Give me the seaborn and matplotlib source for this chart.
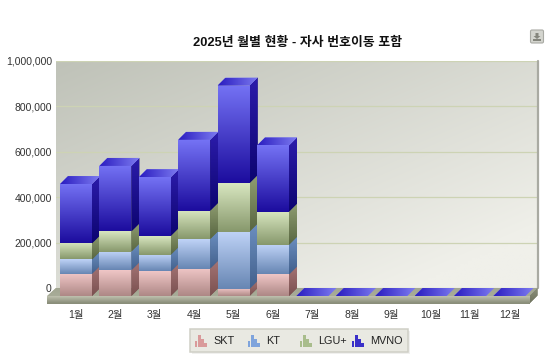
import numpy as np
import pandas as pd
import matplotlib
matplotlib.use("Agg")
import matplotlib.pyplot as plt
from matplotlib.patches import Polygon, Rectangle, FancyBboxPatch
from matplotlib.legend_handler import HandlerBase
from matplotlib.lines import Line2D
from matplotlib.transforms import Affine2D
import seaborn as sns

months = ["1월", "2월", "3월", "4월", "5월", "6월", "7월", "8월", "9월", "10월", "11월", "12월"]
skt = [98000, 114000, 108000, 121000, 32000, 95000, 0, 0, 0, 0, 0, 0]
kt = [63000, 82000, 74000, 130000, 252000, 131000, 0, 0, 0, 0, 0, 0]
lgu = [71000, 89000, 83000, 125000, 214000, 146000, 0, 0, 0, 0, 0, 0]
mvno = [261000, 288000, 258000, 312000, 429000, 291000, 0, 0, 0, 0, 0, 0]
series_names = ["SKT", "KT", "LGU+", "MVNO"]
series_values = [skt, kt, lgu, mvno]
y_ticks = [0, 200000, 400000, 600000, 800000, 1000000]
title = "2025년 월별 현황 - 자사 번호이동 포함"

front_cols = [("#efc6c6", "#ae8886"), ("#bfd3f7", "#6786b3"), ("#d8e6c0", "#87986c"), ("#7472f4", "#1c0c9e")]
side_cols = [("#a47474", "#7a5050"), ("#6c8fc0", "#42608c"), ("#8f9d72", "#586640"), ("#2c1cab", "#0c0470")]
top_cols = [("#b08a88", "#efc6c6"), ("#6786b3", "#bfd3f7"), ("#87986c", "#d8e6c0"), ("#2a1cc0", "#7c7af0")]

sns.set_theme(style="white")
plt.rcParams["font.family"] = ["Liberation Sans", "Noto Sans CJK KR", "DejaVu Sans"]

W, H = 548, 356
fig = plt.figure(figsize=(W / 100, H / 100), dpi=100, facecolor="white")
L, R, T, B = 56, 537.5, 61, 288
ax = fig.add_axes([L / W, 1 - B / H, (R - L) / W, (B - T) / H])

x_step = 39.4
depth = 8.0
first_back = 84.0
bar_w = 32 / x_step

bottom = np.zeros(len(months))
for name, vals, fc in zip(series_names, series_values, front_cols):
    df = pd.DataFrame({"month": months, "v": vals})
    sns.barplot(data=df, x="month", y="v", order=months, color=fc[0], width=bar_w,
                bottom=bottom, ax=ax, errorbar=None, saturation=1, linewidth=0, zorder=3)
    bottom = bottom + np.array(vals)

xlim = ((L - first_back) / x_step, (R - first_back) / x_step)
ax.set_xlim(*xlim)
ax.set_ylim(0, 1000000)
ax.set_autoscale_on(False)
px_y = 1000000 / (B - T)
dx, dy = depth / x_step, depth * px_y


def ramp(c0, c1, vertical=True):
    a, b = np.array(matplotlib.colors.to_rgb(c0)), np.array(matplotlib.colors.to_rgb(c1))
    t = np.linspace(0, 1, 64)[:, None]
    arr = a + (b - a) * t
    arr = arr[:, None, :] if vertical else arr.reshape(1, 64, 3)
    return arr


def shaded_poly(pts, c0, c1, z, vertical=True):
    pts = np.array(pts)
    poly = Polygon(pts, closed=True, transform=ax.transData, facecolor=c1, edgecolor="none",
                   zorder=z, clip_on=False)
    ax.add_patch(poly)
    ext = (pts[:, 0].min(), pts[:, 0].max(), pts[:, 1].min(), pts[:, 1].max())
    if ext[3] - ext[2] <= 0:
        return
    im = ax.imshow(ramp(c0, c1, vertical), extent=ext, origin="upper", aspect="auto",
                   interpolation="bilinear", zorder=z + 1e-4)
    im.set_clip_path(poly)
    im.set_clip_box(fig.bbox)


# 3D faces built from the bars seaborn drew
bars = list(ax.patches)
n = len(months)
ns = len(series_names)
z = 3.0
for c in range(n):
    for s in range(ns):
        b = bars[s * n + c]
        x0, y0, w, h = b.get_x(), b.get_y(), b.get_width(), b.get_height()
        fx0, fx1, fy0, fy1 = x0 - dx, x0 + w - dx, y0 - dy, y0 + h - dy
        if h > 0:
            z += 0.01
            shaded_poly([(fx1, fy0), (x0 + w, y0), (x0 + w, y0 + h), (fx1, fy1)],
                        side_cols[s][0], side_cols[s][1], z)
        if s == ns - 1:
            z += 0.01
            shaded_poly([(fx0, fy1), (fx1, fy1), (x0 + w, y0 + h), (x0, y0 + h)],
                        top_cols[s][0], top_cols[s][1], z, vertical=False)
        z += 0.01
        b.set_visible(h > 0)
        b.set_x(fx0)
        b.set_y(fy0)
        b.set_clip_on(False)
        b.set_zorder(z)
        if h > 0:
            shaded_poly([(fx0, fy0), (fx1, fy0), (fx1, fy1), (fx0, fy1)],
                        front_cols[s][0], front_cols[s][1], z)

# wall
yy, xx = np.mgrid[0:1:80j, 0:1:120j]
tt = np.clip(0.55 * xx + 0.6 * yy, 0, 1)[..., None]
c0, c1 = np.array(matplotlib.colors.to_rgb("#bfc2b8")), np.array(matplotlib.colors.to_rgb("#f0f0ea"))
ax.imshow(c0 + (c1 - c0) * tt, extent=(0, 1, 0, 1), transform=ax.transAxes, aspect="auto",
          origin="upper", zorder=0, interpolation="bilinear")

# floor
fl = xlim[0] - dx * 1.1
fr = xlim[1] - dx
floor_h = 7.5 * px_y
shaded_poly([(xlim[0], 0), (xlim[1], 0), (fr, -dy), (fl, -dy)], "#a2a692", "#a8ac98", 2)
shaded_poly([(fl, -dy), (fr, -dy), (fr, -dy - floor_h), (fl, -dy - floor_h)], "#c6c8b6", "#8a8e7a", 2)
shaded_poly([(fr, -dy), (xlim[1], 0), (xlim[1], -floor_h), (fr, -dy - floor_h)], "#8c907c", "#70745f", 2)
ax.plot([1, 1], [0, 1], transform=ax.transAxes, color="#a9aaa2", lw=1.6, zorder=1, clip_on=False)

ax.set_xlim(*xlim)
ax.set_ylim(0, 1000000)

# axes, grid, labels
for sp in ax.spines.values():
    sp.set_visible(False)
ax.set_axisbelow(True)
ax.yaxis.grid(True, color="#cdd3b4", lw=0.9)
ax.xaxis.grid(False)
ax.set_xlabel("")
ax.set_ylabel("")
ax.set_yticks(y_ticks)
ax.set_yticklabels([f"{v:,}" for v in y_ticks])
ax.set_xticks(range(n))
ax.set_xticklabels(months)
ax.tick_params(axis="y", length=0, pad=3, labelsize=7.5, labelcolor="#333333")
ax.tick_params(axis="x", length=0, pad=16, labelsize=7.5, labelcolor="#333333")
for lab in ax.get_xticklabels():
    lab.set_transform(lab.get_transform() + Affine2D().translate(-depth, 0))

fig.text(298 / W, 1 - 43 / H, title, ha="center", va="center", fontsize=9.25,
         fontweight="bold", color="#111111")

px = Affine2D().scale(1 / W, -1 / H).translate(0, 1) + fig.transFigure

# legend frame
fig.patches.append(Rectangle((192, 331), 218, 23, transform=px, facecolor="#f0f0ee", edgecolor="none", zorder=1))
fig.patches.append(Rectangle((190, 329), 218, 23, transform=px, facecolor="#e9e9e2",
                             edgecolor="#cfcfc6", lw=1.1, zorder=1.1))


class BarIcon(HandlerBase):
    def __init__(self, color):
        super().__init__()
        self.color = color

    def create_artists(self, legend, orig, xd, yd, width, height, fontsize, trans):
        arts = []
        bw = width / 4
        for i, f in enumerate((0.7, 1.55, 1.0, 0.55)):
            arts.append(Rectangle((i * bw, -2), bw * 0.8, f * height, facecolor=self.color,
                                  edgecolor="none", transform=trans))
        return arts


icon_cols = ["#d99a9a", "#7fa4dc", "#a9bd8c", "#3a30c8"]
legend_x = [195, 248, 300, 352]
for nm, col, lx in zip(series_names, icon_cols, legend_x):
    h = Line2D([], [], label=nm)
    leg = fig.legend(handles=[h], handler_map={h: BarIcon(col)}, loc="center left",
                     bbox_to_anchor=(lx / W, 1 - 341 / H), frameon=False, fontsize=7.8,
                     handlelength=1.15, handletextpad=0.55, borderpad=0, borderaxespad=0,
                     labelcolor="#222222")
    leg.set_zorder(2)

# export button
fig.patches.append(FancyBboxPatch((530.5, 30), 13, 13, boxstyle="round,pad=0,rounding_size=1.5",
                                  transform=px, facecolor="#d4d5cf", edgecolor="#a9aaa4", lw=0.8))
fig.patches.append(Polygon([(535.5, 33), (538.5, 33), (538.5, 36), (540.5, 36), (537, 39), (533.5, 36), (535.5, 36)],
                           transform=px, facecolor="#85867d", edgecolor="none", zorder=2))
fig.patches.append(Rectangle((533, 39), 8, 1.6, transform=px, facecolor="#85867d", edgecolor="none", zorder=2))

fig.savefig("out.png", dpi=100)
